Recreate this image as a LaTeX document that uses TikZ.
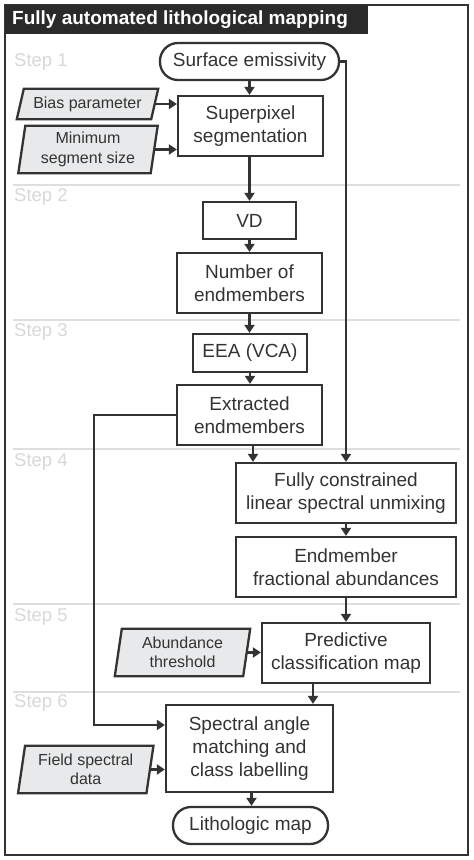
\documentclass[tikz,border=0pt]{standalone}
\usepackage{fontspec}
\setmainfont{Liberation Sans}
\usetikzlibrary{arrows.meta,backgrounds,calc}
\definecolor{ink}{HTML}{333333}
\definecolor{stepgray}{HTML}{D6D8DA}
\definecolor{sepgray}{HTML}{DCDEDF}
\definecolor{parafill}{HTML}{E8E9EA}
\definecolor{titlebg}{HTML}{2A2A2A}
\begin{document}
\begin{tikzpicture}[x=1pt,y=-1pt,
  every node/.style={font=\fontsize{19}{22.8}\selectfont, text=ink, inner sep=0pt, align=center},
  box/.style={draw=ink, line width=2.3pt, fill=white},
  term/.style={box, rounded corners=18pt},
  para/.style={font=\fontsize{16}{19.5}\selectfont},
  parashape/.style={draw=ink, line width=2.3pt, fill=parafill, line join=miter},
  arr/.style={draw=ink, line width=2.2pt, -{Triangle[length=8pt,width=10pt]}},
  sep/.style={draw=sepgray, line width=1.2pt},
  steplabel/.style={text=stepgray, font=\fontsize{18.5}{20}\selectfont, anchor=west}
]
\useasboundingbox (0,0) rectangle (474,860);
\begin{scope}[on background layer]
\fill[white] (0,0) rectangle (474,860);
\end{scope}
% frame and title
\draw[ink, line width=2.8pt] (5,5) rectangle (468,855);
\fill[titlebg] (5,5) rectangle (368,34);
\node[anchor=west, text=white, font=\bfseries\fontsize{19}{22}\selectfont] (title) at (12,20) {Fully automated lithological mapping};
% step separators
\foreach \yy in {185,320,449,604,692} \draw[sep] (13,\yy) -- (460,\yy);
\node[steplabel] (s1) at (14,62) {Step 1};
\node[steplabel] (s2) at (14,197) {Step 2};
\node[steplabel] (s3) at (14,332) {Step 3};
\node[steplabel] (s4) at (14,462) {Step 4};
\node[steplabel] (s5) at (14,617) {Step 5};
\node[steplabel] (s6) at (14,703) {Step 6};
% nodes
\node[term, minimum width=179pt, minimum height=37pt] (surf) at (249.5,61.5) {Surface emissivity};
\node[box, minimum width=145pt, minimum height=60pt] (super) at (250.5,126) {Superpixel\\segmentation};
\node[para, minimum width=134pt, minimum height=30pt] (bias) at (87.5,104) {Bias parameter};
\node[para, minimum width=132pt, minimum height=47pt] (minseg) at (88,149.5) {Minimum\\segment size};
\node[box, minimum width=93pt, minimum height=37pt] (vd) at (249.5,220.5) {VD};
\node[box, minimum width=145pt, minimum height=60pt] (nend) at (249.5,283) {Number of\\endmembers};
\node[box, minimum width=114pt, minimum height=38pt] (eea) at (250,353) {EEA (VCA)};
\node[box, minimum width=145pt, minimum height=60pt] (ext) at (249.5,415) {Extracted\\endmembers};
\node[box, minimum width=220pt, minimum height=60pt] (fcls) at (346,493) {Fully constrained\\linear spectral unmixing};
\node[box, minimum width=220pt, minimum height=60pt] (efa) at (346,567) {Endmember\\fractional abundances};
\node[box, minimum width=168pt, minimum height=60pt] (pred) at (346,653) {Predictive\\classification map};
\node[para, minimum width=128pt, minimum height=47pt] (abund) at (182.5,652.5) {Abundance\\threshold};
\node[box, minimum width=167pt, minimum height=87pt] (sam) at (249.5,748.5) {Spectral angle\\matching and\\class labelling};
\node[para, minimum width=128pt, minimum height=47pt] (field) at (85.75,769.5) {Field spectral\\data};
\node[term, minimum width=155pt, minimum height=37pt] (litho) at (250.5,825.5) {Lithologic map};
% parallelogram outlines
\begin{scope}[on background layer]
\foreach \n in {bias,minseg,abund,field}
  \draw[parashape] ([xshift=3.5pt]\n.north west) -- ([xshift=3.5pt]\n.north east) -- ([xshift=-3.5pt]\n.south east) -- ([xshift=-3.5pt]\n.south west) -- cycle;
\end{scope}
% connectors
\draw[arr] (surf.south) -- (surf.south |- super.north);
\draw[arr] (bias.east) -- (bias.east -| super.west);
\draw[arr] (minseg.east) -- (minseg.east -| super.west);
\draw[arr] (super.south -| vd.north) -- (vd.north);
\draw[arr] (vd.south) -- (nend.north);
\draw[arr] (nend.south) -- (nend.south |- eea.north);
\draw[arr] (eea.south) -- (eea.south |- ext.north);
\draw[arr] (surf.east) -| (fcls.north);
\draw[arr] ([xshift=3.5pt]ext.south) -- ([xshift=3.5pt]ext.south |- fcls.north);
\draw[arr] (fcls.south) -- (efa.north);
\draw[arr] (efa.south) -- (pred.north);
\draw[arr] (abund.east) -- (abund.east -| pred.west);
\draw[arr] (ext.west) -- ++(-82,0) |- ([yshift=23.5pt]sam.west);
\draw[arr] ([xshift=-33pt]pred.south) -- ([xshift=-33pt]pred.south |- sam.north);
\draw[arr] (field.east) -- (field.east -| sam.west);
\draw[arr] ([xshift=2pt]sam.south) -- ([xshift=2pt]sam.south |- litho.north);
\end{tikzpicture}
\end{document}
